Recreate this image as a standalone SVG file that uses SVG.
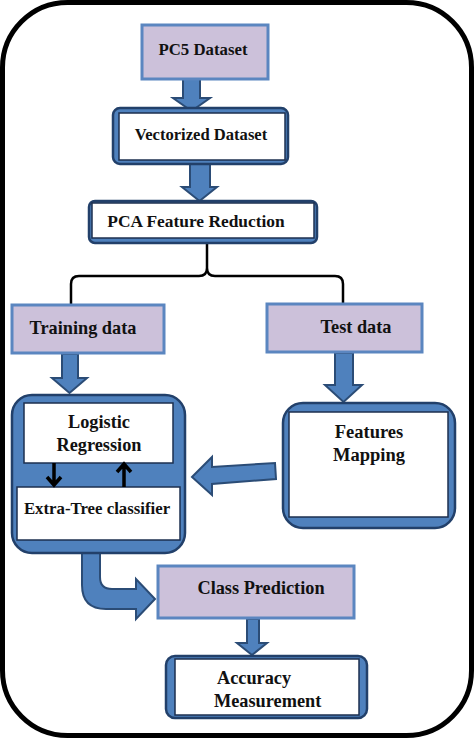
<svg xmlns="http://www.w3.org/2000/svg" width="474" height="739" viewBox="0 0 474 739">
<style>
text{font-family:"Liberation Serif","Times New Roman",serif;font-weight:bold;fill:#111;text-anchor:middle}
.lav{fill:#ccc1da;stroke:#5b86c0;stroke-width:3}
.blk{fill:#4f81bd;stroke:#22406a;stroke-width:2.5;stroke-linejoin:round}
.wht{fill:#fff;stroke:#1c2f4f;stroke-width:1.5}
.arr{fill:#4f81bd;stroke:#2b4c76;stroke-width:2;stroke-linejoin:miter}
.brace{fill:none;stroke:#000;stroke-width:2.5}
.small{stroke:#000;stroke-width:3.5;fill:none;stroke-linejoin:miter}
</style>
<rect x="0" y="0" width="474" height="739" fill="#fff"/>
<rect x="2.5" y="2.5" width="469" height="733" rx="65" ry="65" fill="#fff" stroke="#000" stroke-width="5"/>

<g id="connectors">
<path class="arr" d="M183,79 V98 H173 L191.5,111 L210,98 H200 V79 Z"/>
<path class="arr" d="M190,164 V187 H182 L199.5,201 L217,187 H210 V164 Z"/>
<path class="brace" d="M71,305 V284 Q71,276 79,276 H199 Q207,276 207,268 V243 M207,268 Q207,276 215,276 H335 Q343,276 343,284 V305"/>
<path class="arr" d="M62,354 V378 H52 L69.5,393 L87,378 H78 V354 Z"/>
<path class="arr" d="M335,353 V385 H325 L343.5,402 L362,385 H353 V353 Z"/>
<path class="arr" d="M192,477 L212,457 V467 L275,463 L276,479 L212,484 V495 Z"/>
<path class="arr" d="M82,553 V585 Q82,609 106,609 H136 V619 L155,599 L136,579 V589 H112 Q100,589 100,577 V553 Z"/>
<path class="arr" d="M247,619 V643 H237 L252,655 L267,643 H259 V619 Z"/>
</g>

<g id="pc5">
<rect class="lav" x="142" y="25" width="126" height="54"/>
<text x="203" y="55" font-size="16.8">PC5 Dataset</text>
</g>

<g id="vectorized">
<rect class="blk" x="113" y="108" width="175" height="56" rx="7"/>
<rect class="wht" x="119" y="113" width="166" height="47"/>
<text x="201" y="140" font-size="16.6">Vectorized Dataset</text>
</g>

<g id="pca">
<rect class="blk" x="89" y="201" width="228" height="42" rx="6"/>
<rect class="wht" x="92" y="203" width="222" height="35"/>
<text x="196" y="227" font-size="17.4">PCA Feature Reduction</text>
</g>

<g id="training">
<rect class="lav" x="12" y="305" width="152" height="48"/>
<text x="83" y="334" font-size="18.3">Training data</text>
</g>

<g id="test">
<rect class="lav" x="267" y="304" width="155" height="48"/>
<text x="356" y="333" font-size="18.3">Test data</text>
</g>

<g id="classifier">
<rect class="blk" x="12" y="395" width="173" height="158" rx="20"/>
<rect class="wht" x="24" y="403" width="149" height="60"/>
<rect class="wht" x="17" y="487" width="163" height="53"/>
<text x="99" y="428" font-size="18.3">Logistic</text>
<text x="99" y="451" font-size="18.3">Regression</text>
<text x="97" y="514" font-size="16.8">Extra-Tree classifier</text>
<path class="small" d="M54,463 V485 M47,477 L54,485 L61,477"/>
<path class="small" d="M124,487 V465 M117,472 L124,464 L131,472"/>
</g>

<g id="features">
<rect class="blk" x="283" y="403" width="172" height="125" rx="20"/>
<rect class="wht" x="289" y="412" width="159" height="105"/>
<text x="369" y="438" font-size="18.5">Features</text>
<text x="369" y="461" font-size="18.5">Mapping</text>
</g>

<g id="classprediction">
<rect class="lav" x="158" y="566" width="196" height="52"/>
<text x="261" y="594" font-size="18.3">Class Prediction</text>
</g>

<g id="accuracy">
<rect class="blk" x="166" y="656" width="201" height="62" rx="9"/>
<rect class="wht" x="175" y="659" width="184" height="56"/>
<text x="217" y="684" font-size="18.3" style="text-anchor:start">Accuracy</text>
<text x="214" y="707" font-size="18.3" style="text-anchor:start">Measurement</text>
</g>
</svg>
